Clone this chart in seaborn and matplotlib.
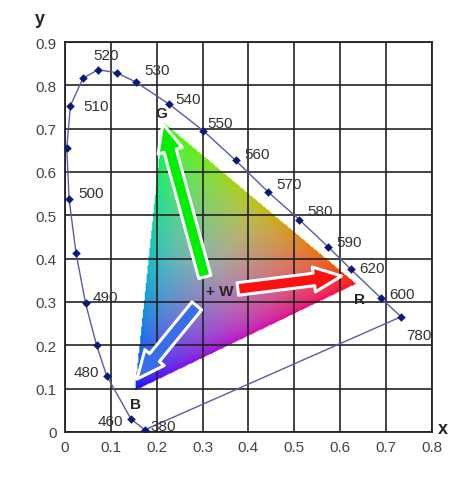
import numpy as np
import pandas as pd
import matplotlib
matplotlib.use("Agg")
import matplotlib.pyplot as plt
from matplotlib.patches import FancyArrowPatch
import seaborn as sns

# spectral locus samples
locus_x = [0.174, 0.144, 0.091, 0.069, 0.045, 0.024, 0.009, 0.004, 0.012, 0.039,
           0.072, 0.113, 0.154, 0.228, 0.302, 0.372, 0.443, 0.511, 0.574, 0.624,
           0.689, 0.733]
locus_y = [0.005, 0.030, 0.130, 0.200, 0.297, 0.414, 0.538, 0.656, 0.753, 0.816,
           0.836, 0.829, 0.808, 0.756, 0.695, 0.627, 0.554, 0.490, 0.427, 0.375,
           0.309, 0.266]
locus_labels = ["380", "460", "480", "", "490", "", "500", "", "510", "",
                "520", "", "530", "540", "550", "560", "570", "580", "590", "620",
                "600", "780"]
# label offsets in points (dx, dy)
label_offsets = {"380": (4, 0), "460": (-24, -4), "480": (-24, 0), "490": (5, 2),
                 "500": (7, 1), "510": (9, -3), "520": (-3, 8), "530": (6, 6),
                 "540": (4, 1), "550": (3, 3), "560": (6, 2), "570": (6, 3),
                 "580": (6, 3), "590": (6, 1), "620": (6, -2), "600": (6, 0),
                 "780": (4, -16)}

# gamut triangle
prim_names = ["R", "G", "B"]
prim_x = [0.635, 0.213, 0.152]
prim_y = [0.342, 0.716, 0.095]
white_x, white_y = 0.32, 0.325

# arrows: (tail, tip)
arrow_tail_x = [0.305, 0.377, 0.2875]
arrow_tail_y = [0.358, 0.330, 0.291]
arrow_tip_x = [0.2135, 0.603, 0.157]
arrow_tip_y = [0.711, 0.360, 0.122]
arrow_colors = ["#00ee00", "#ff1010", "#3a6ee8"]

xticks = [0, 0.1, 0.2, 0.3, 0.4, 0.5, 0.6, 0.7, 0.8]
yticks = [0, 0.1, 0.2, 0.3, 0.4, 0.5, 0.6, 0.7, 0.8, 0.9]

sns.set_style("white")
plt.rcParams["font.family"] = ["Liberation Sans", "DejaVu Sans"]

fig = plt.figure(figsize=(4.74, 4.81), dpi=100)
ax = fig.add_axes([0.137, 0.0998, 0.774, 0.8108])
ax.set_xlim(0, 0.8)
ax.set_ylim(0, 0.9)

# coloured triangle via barycentric mixing
n = 400
gx, gy = np.meshgrid(np.linspace(0, 0.8, n), np.linspace(0, 0.9, n))
(x1, x2, x3), (y1, y2, y3) = prim_x, prim_y
det = (y2 - y3) * (x1 - x3) + (x3 - x2) * (y1 - y3)
w1 = ((y2 - y3) * (gx - x3) + (x3 - x2) * (gy - y3)) / det
w2 = ((y3 - y1) * (gx - x3) + (x1 - x3) * (gy - y3)) / det
w3 = 1 - w1 - w2
inside = (w1 >= 0) & (w2 >= 0) & (w3 >= 0)
w = np.stack([w1, w2, w3], axis=-1).clip(0, 1)
rgb = w / w.max(axis=-1, keepdims=True).clip(1e-6)
rgb = (rgb * w.max(axis=-1, keepdims=True) ** 0.8) ** (1 / 2.0)
img = np.zeros((n, n, 4))
img[..., :3] = rgb.clip(0, 1)
img[..., 3] = inside.astype(float)
ax.imshow(img, origin="lower", extent=[0, 0.8, 0, 0.9], aspect="auto",
          interpolation="bilinear", zorder=1)

# grid
ax.set_xticks(xticks)
ax.set_yticks(yticks)
ax.set_xticklabels(["0", "0.1", "0.2", "0.3", "0.4", "0.5", "0.6", "0.7", "0.8"])
ax.set_yticklabels(["0", "0.1", "0.2", "0.3", "0.4", "0.5", "0.6", "0.7", "0.8", "0.9"])
ax.grid(True, color="#222222", lw=1.2, zorder=2)
ax.set_axisbelow(False)
ax.tick_params(length=0, labelsize=11, labelcolor="#444444", pad=6)
for s in ax.spines.values():
    s.set_color("#222222")
    s.set_linewidth(1.3)

# spectral locus
loc = pd.DataFrame({"x": locus_x + [locus_x[0]], "y": locus_y + [locus_y[0]]})
sns.lineplot(data=loc, x="x", y="y", sort=False, estimator=None, color="#5a5aa8",
             lw=1.0, ax=ax, zorder=3)
pts = pd.DataFrame({"x": locus_x, "y": locus_y, "label": locus_labels})
sns.scatterplot(data=pts, x="x", y="y", marker="D", s=16, color="#0a1a7a",
                edgecolor="#0a1a7a", ax=ax, zorder=4)
for _, r in pts.iterrows():
    if r["label"]:
        dx, dy = label_offsets[r["label"]]
        ax.annotate(r["label"], (r["x"], r["y"]), xytext=(dx, dy),
                    textcoords="offset points", fontsize=11, color="#333333",
                    zorder=5)

# arrows
for tx, ty, hx, hy, c in zip(arrow_tail_x, arrow_tail_y, arrow_tip_x, arrow_tip_y,
                             arrow_colors):
    ar = FancyArrowPatch((tx, ty), (hx, hy),
                         arrowstyle="simple,head_width=18,head_length=20,tail_width=9",
                         mutation_scale=1, fc=c, ec="white", lw=2.2, zorder=6,
                         shrinkA=0, shrinkB=0)
    ax.add_patch(ar)

# primaries and white point labels
ax.text(prim_x[1] - 0.003, prim_y[1] + 0.005, "G", fontsize=11, fontweight="bold",
        ha="center", va="bottom", zorder=7)
ax.text(prim_x[0] - 0.005, prim_y[0] - 0.02, "R", fontsize=11, fontweight="bold",
        ha="left", va="top", zorder=7)
ax.text(prim_x[2] - 0.01, prim_y[2] - 0.015, "B", fontsize=11, fontweight="bold",
        ha="left", va="top", zorder=7)
ax.text(white_x - 0.012, white_y, "+ W", fontsize=11, fontweight="bold", ha="left",
        va="center", zorder=7)

ax.set_xlabel("")
ax.set_ylabel("")
fig.text(40 / 474, 1 - 20 / 481, "y", fontsize=13, fontweight="bold", ha="center",
         va="center")
fig.text(443 / 474, 1 - 430 / 481, "x", fontsize=13, fontweight="bold", ha="center",
         va="center")

fig.savefig("out.png", dpi=100)
